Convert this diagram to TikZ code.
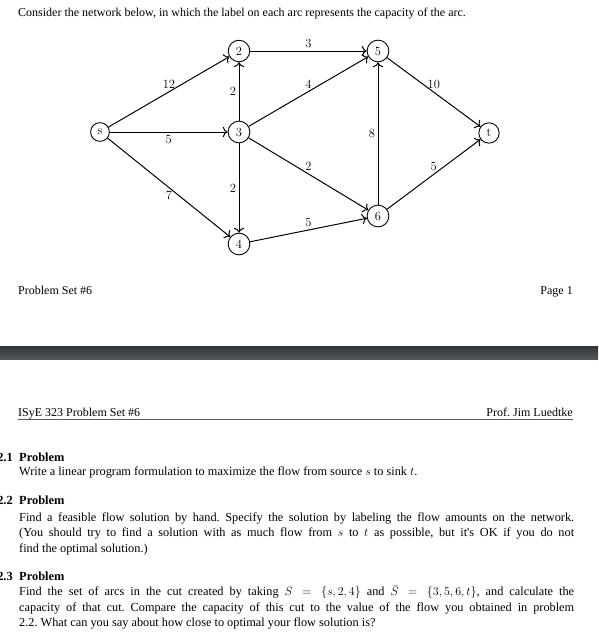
\documentclass[tikz,border=0pt]{standalone}
\usepackage{amsmath,amssymb}
\usepackage{fontspec}
\usepackage{tikz}
\usetikzlibrary{positioning,arrows.meta}
\newfontfamily\bodyfont{Liberation Serif}
\newcommand{\jline}[1]{\makebox[\linewidth][s]{#1}}
\definecolor{bandtop}{HTML}{303336}
\definecolor{bandbot}{HTML}{53575B}
\tikzset{
  >={To[scale=1.3]},
  netnode/.style={circle,draw=black,line width=0.9pt,inner sep=4pt,
    font=\fontsize{12.5}{15}\selectfont},
  arc/.style={->,line width=1pt},
  arclbl/.style={font=\fontsize{12.5}{15}\selectfont,inner sep=2.6pt},
  bodytxt/.style={font=\bodyfont\fontsize{12}{15.5}\selectfont,inner sep=0pt},
  headtxt/.style={font=\bodyfont\bfseries\fontsize{12.4}{15.5}\selectfont,inner sep=0pt},
  partxt/.style={font={\bodyfont\fontsize{12.3}{15.5}\selectfont\frenchspacing},
    inner sep=0pt,text width=555pt,align=justify},
}

\begin{document}
\begin{tikzpicture}[x=1pt,y=-1pt]
  \useasboundingbox (0,0) rectangle (598,638);
  \node[bodytxt,anchor=base west] (intro) at (18,16)
    {Consider the network below, in which the label on each arc represents the capacity of the arc.};

  % network
  \node[netnode] (s)  at (100,132) {s};
  \node[netnode] (n2) at (239,51)  {2};
  \node[netnode] (n3) at (239,132) {3};
  \node[netnode] (n4) at (239,244) {4};
  \node[netnode] (n5) at (378,51)  {5};
  \node[netnode] (n6) at (378,216) {6};
  \node[netnode] (t)  at (489,133) {t};
  \draw[arc] (s)  -- node[arclbl,above] {12} (n2);
  \draw[arc] (s)  -- node[arclbl,below] {5} (n3);
  \draw[arc] (s)  -- node[arclbl,below] {7} (n4);
  \draw[arc] (n3) -- node[arclbl,left] {2} (n2);
  \draw[arc] (n3) -- node[arclbl,left] {2} (n4);
  \draw[arc] (n2) -- node[arclbl,above] {3} (n5);
  \draw[arc] (n3) -- node[arclbl,above] {4} (n5);
  \draw[arc] (n3) -- node[arclbl,above] {2} (n6);
  \draw[arc] (n4) -- node[arclbl,above] {5} (n6);
  \draw[arc] (n6) -- node[arclbl,left] {8} (n5);
  \draw[arc] (n5) -- node[arclbl,above] {10} (t);
  \draw[arc] (n6) -- node[arclbl,above] {5} (t);

  % page break
  \node[bodytxt,anchor=base west] (footl) at (18,294) {Problem Set \#6};
  \node[bodytxt,anchor=base east] (footr) at (573,294) {Page 1};
  \shade[top color=bandtop,bottom color=bandbot] (0,346) rectangle (598,359);
  \node[bodytxt,anchor=base west] (headl) at (18,416.5) {ISyE 323 Problem Set \#6};
  \node[bodytxt,anchor=base east] (headr) at (573,416.5) {Prof.\ Jim Luedtke};
  \draw[line width=1.3pt,black!65] (18,419.8) -- (573,419.8);

  % problems
  \node[headtxt,anchor=base east] (num1) at (13,461) {2.1};
  \node[headtxt,anchor=base west] (ttl1) at (19,461) {Problem};
  \node[partxt,anchor=base west] (par1) at (19,475.7)
    {Write a linear program formulation to maximize the flow from source $s$ to sink $t$.};

  \node[headtxt,anchor=base east] (num2) at (13,504) {2.2};
  \node[headtxt,anchor=base west] (ttl2) at (19,504) {Problem};
  \node[partxt,anchor=base west] (par2) at (19,521)
    {\jline{Find a feasible flow solution by hand. Specify the solution by labeling the flow amounts on the network.}\\
     \jline{(You should try to find a solution with as much flow from $s$ to $t$ as possible, but it's OK if you do not}\\
     find the optimal solution.)};

  \node[headtxt,anchor=base east] (num3) at (13,580) {2.3};
  \node[headtxt,anchor=base west] (ttl3) at (19,580) {Problem};
  \node[partxt,anchor=base west] (par3) at (19,595.5)
    {\jline{Find the set of arcs in the cut created by taking $S=\{s,2,4\}$ and $\bar{S}=\{3,5,6,t\}$, and calculate the}\\
     \jline{capacity of that cut. Compare the capacity of this cut to the value of the flow you obtained in problem}\\
     2.2. What can you say about how close to optimal your flow solution is?};
\end{tikzpicture}
\end{document}
